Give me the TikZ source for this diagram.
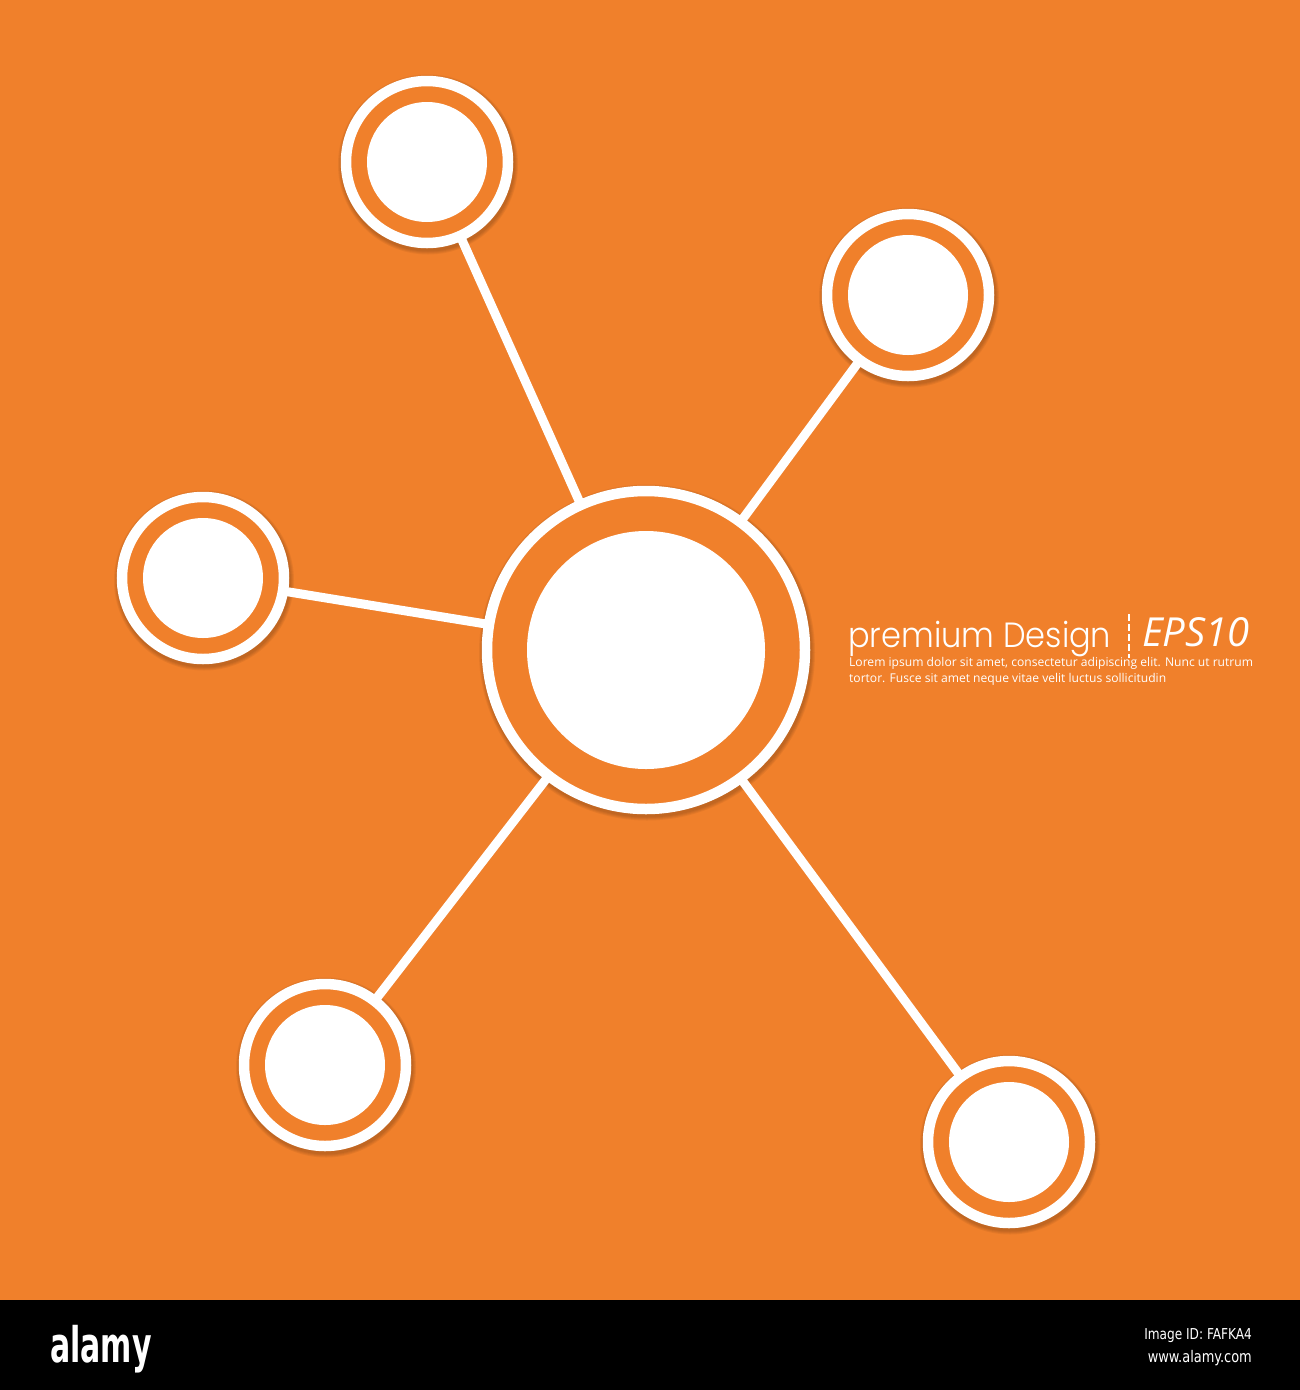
\documentclass[tikz,border=0pt]{standalone}
\usepackage{fontspec}
\setmainfont{Open Sans}
\newfontfamily\thinfont{Poppins Light}
\newfontfamily\condfont{DejaVu Sans Condensed}
\definecolor{bg}{HTML}{F0802B}
\tikzset{
  ring/.style={circle, draw=white, fill=bg, line width=10.5pt, inner sep=0pt, minimum size=#1},
  disc/.style={circle, fill=white, inner sep=0pt, minimum size=#1},
  link/.style={draw=white, line width=9pt},
  lbl/.style={anchor=base west, text=white, inner sep=0pt},
}
\begin{document}
\begin{tikzpicture}[x=1pt,y=-1pt]
\useasboundingbox (0,0) rectangle (1300,1390);
\fill[bg] (0,0) rectangle (1300,1300);
\fill[black] (0,1300) rectangle (1300,1390);
% positions
\coordinate (pM) at (646,650);
\coordinate (pA) at (427,162);
\coordinate (pB) at (908,295);
\coordinate (pC) at (203,578);
\coordinate (pD) at (325,1065);
\coordinate (pE) at (1009,1142);
% soft drop shadows
\foreach \p/\r in {pA/86,pB/86,pC/86,pD/86,pE/86,pM/164}{
  \foreach \k in {1,2,3,4}{
    \fill[black, opacity=0.05] ([xshift=1pt,yshift=-2.5pt]\p) circle[radius=\r pt+\k pt];
  }
}
% links
\draw[link] (pM) -- (pA);
\draw[link] (pM) -- (pB);
\draw[link] (pM) -- (pC);
\draw[link] (pM) -- (pD);
\draw[link] (pM) -- (pE);
% nodes
\node[ring=318pt] (M) at (pM) {};
\node[disc=238pt] (Mi) at (pM) {};
\foreach \n in {A,B,C,D,E}{
  \node[ring=162pt] (\n) at (p\n) {};
  \node[disc=120pt] (\n i) at (p\n) {};
}
% text
\node[lbl, font=\thinfont\fontsize{35}{35}\selectfont, xscale=0.915] (t1) at (848,647) {premium Design};
\draw[white, line width=1.3pt, dash pattern=on 7pt off 3pt] (1129,614) -- (1129,658);
\node[lbl, font=\itshape\fontsize{40}{40}\selectfont] (t2) at (1142,646) {EPS10};
\node[lbl, font=\fontsize{12.1}{14}\selectfont] (t3) at (849,666) {Lorem ipsum dolor sit amet, consectetur adipiscing elit. Nunc ut rutrum};
\node[lbl, font=\fontsize{12.1}{14}\selectfont] (t4) at (849,682) {tortor. Fusce sit amet neque vitae velit luctus sollicitudin};
% bottom bar
\node[lbl, font=\condfont\bfseries\fontsize{49}{49}\selectfont, xscale=0.68] (logo) at (50,1362) {alamy};
\node[anchor=base east, text=white, inner sep=0pt, font=\condfont\fontsize{15}{15}\selectfont, xscale=0.9] (id) at (1252,1339) {Image ID: FAFKA4};
\node[anchor=base east, text=white, inner sep=0pt, font=\condfont\fontsize{16}{16}\selectfont, xscale=0.9] (www) at (1252,1362) {www.alamy.com};
\end{tikzpicture}
\end{document}
